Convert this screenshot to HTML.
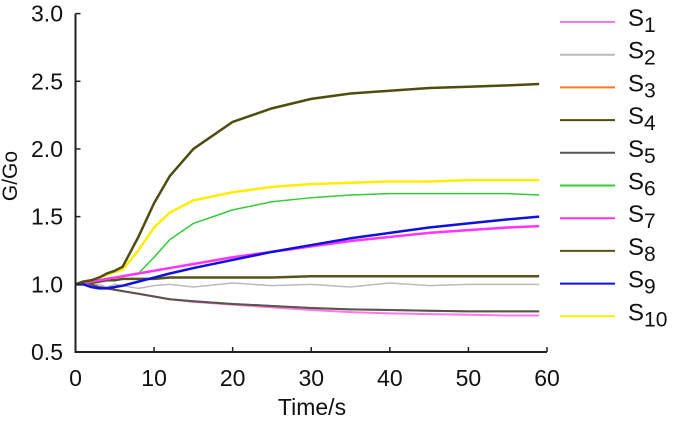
<!DOCTYPE html>
<html><head><meta charset="utf-8"><style>
body{margin:0;background:#fff;width:675px;height:419px;overflow:hidden}
svg{font-family:"Liberation Sans",Arial,sans-serif}
</style></head><body>
<svg id="chart" width="675" height="419" viewBox="0 0 675 419"></svg>
<script>
const times=[0,1,2,3,4,5,6,8,10,12,15,20,25,30,35,40,45,50,55,59];
const s1=[1,1.02,1.0,0.98,0.97,0.96,0.95,0.93,0.91,0.89,0.87,0.85,0.83,0.81,0.795,0.785,0.78,0.775,0.77,0.77];
const s2=[1,1.01,0.99,1.0,0.98,1.0,0.99,0.97,0.99,1.0,0.98,1.01,0.99,1.0,0.98,1.01,0.99,1.0,1.0,1.0];
const s3=[1,1.02,1.0,0.98,0.97,0.96,0.95,0.93,0.91,0.89,0.875,0.855,0.84,0.825,0.815,0.81,0.805,0.8,0.8,0.8];
const s4=[1,1.02,1.03,1.05,1.08,1.1,1.13,1.35,1.6,1.8,2.0,2.2,2.3,2.37,2.41,2.43,2.45,2.46,2.47,2.48];
const s5=[1,1.02,1.0,0.98,0.97,0.96,0.95,0.93,0.91,0.89,0.875,0.855,0.84,0.825,0.815,0.81,0.805,0.8,0.8,0.8];
const s6=[1,1.01,1.02,1.03,1.04,1.05,1.06,1.08,1.2,1.33,1.45,1.55,1.61,1.64,1.66,1.67,1.67,1.67,1.67,1.66];
const s7=[1,1.01,1.02,1.03,1.04,1.05,1.06,1.08,1.1,1.12,1.15,1.2,1.24,1.28,1.32,1.35,1.38,1.4,1.42,1.43];
const s8=[1,1.02,1.01,1.02,1.03,1.03,1.04,1.04,1.04,1.05,1.05,1.05,1.05,1.06,1.06,1.06,1.06,1.06,1.06,1.06];
const s9=[1,1.0,0.98,0.97,0.97,0.98,0.99,1.02,1.05,1.08,1.12,1.18,1.24,1.29,1.34,1.38,1.42,1.45,1.48,1.5];
const s10=[1,1.02,1.03,1.05,1.07,1.09,1.11,1.25,1.42,1.53,1.62,1.68,1.72,1.74,1.75,1.76,1.76,1.77,1.77,1.77];
const seriesNames=["1","2","3","4","5","6","7","8","9","10"];
const xTicks=[0,10,20,30,40,50,60];
const yTicks=[0.5,1.0,1.5,2.0,2.5,3.0];
const svg=document.getElementById('chart');
const NS='http://www.w3.org/2000/svg';
const X=t=>75.5+t*(547-75.5)/60;
const Y=v=>352-(v-0.5)*(352-13.6)/2.5;
function mk(tag,attrs,txt){const e=document.createElementNS(NS,tag);for(const k in attrs)e.setAttribute(k,attrs[k]);if(txt!==undefined)e.textContent=txt;svg.appendChild(e);return e;}
const series=[[s1,'#ff77ee',2],[s2,'#bbbbbb',1.5],[s3,'#ff7722',2],[s4,'#4d4d0d',2.5],[s5,'#555555',2],[s6,'#33cc33',1.5],[s7,'#ff33ff',2.5],[s8,'#55551a',2.5],[s9,'#1111dd',2.5],[s10,'#ffee00',2.5]];
const order=[1,0,2,4,7,5,6,8,9,3];
order.forEach(i=>{const [d,c,w]=series[i];
 const p=mk('polyline',{points:d.map((v,j)=>X(times[j])+','+Y(v)).join(' '),fill:'none',stroke:c,'stroke-width':w,'stroke-linejoin':'round'});
 
 
});
const ax=mk('path',{d:`M${X(0)},${Y(3)} V${Y(0.5)} H${X(60)}`,fill:'none',stroke:'#222','stroke-width':2});


xTicks.forEach(t=>{
 const l=mk('line',{x1:X(t),x2:X(t),y1:Y(0.5),y2:Y(0.5)-5,stroke:'#222','stroke-width':1.5});
 
 
 const tx=mk('text',{x:X(t),y:386,'text-anchor':'middle','font-size':23,fill:'#111'},String(t));
 
 
});
yTicks.forEach(v=>{
 const l=mk('line',{x1:X(0),x2:X(0)+5,y1:Y(v),y2:Y(v),stroke:'#222','stroke-width':1.5});
 
 
 const tx=mk('text',{x:63,y:Y(v)+8,'text-anchor':'end','font-size':23,fill:'#111'},v.toFixed(1));
 
 
});
const xt=mk('text',{x:312,y:415,'text-anchor':'middle','font-size':23,fill:'#111'},'Time/s');


const yt=mk('text',{x:0,y:0,'text-anchor':'middle','font-size':21,fill:'#111',transform:`translate(17,${Y(1.8)}) rotate(-90)`},'G/Go');


seriesNames.forEach((n,i)=>{
 const y=22+i*32.7;
 const l=mk('line',{x1:560,x2:615,y1:y,y2:y,stroke:series[i][1],'stroke-width':2});
 
 
 const t=mk('text',{x:628,y:y+4,'font-size':24,fill:'#111'});
 
 
 t.appendChild(document.createTextNode('S'));
 const ts=document.createElementNS(NS,'tspan');ts.setAttribute('dy','6');ts.setAttribute('font-size','21');ts.textContent=n;t.appendChild(ts);
});
</script>
</body></html>
